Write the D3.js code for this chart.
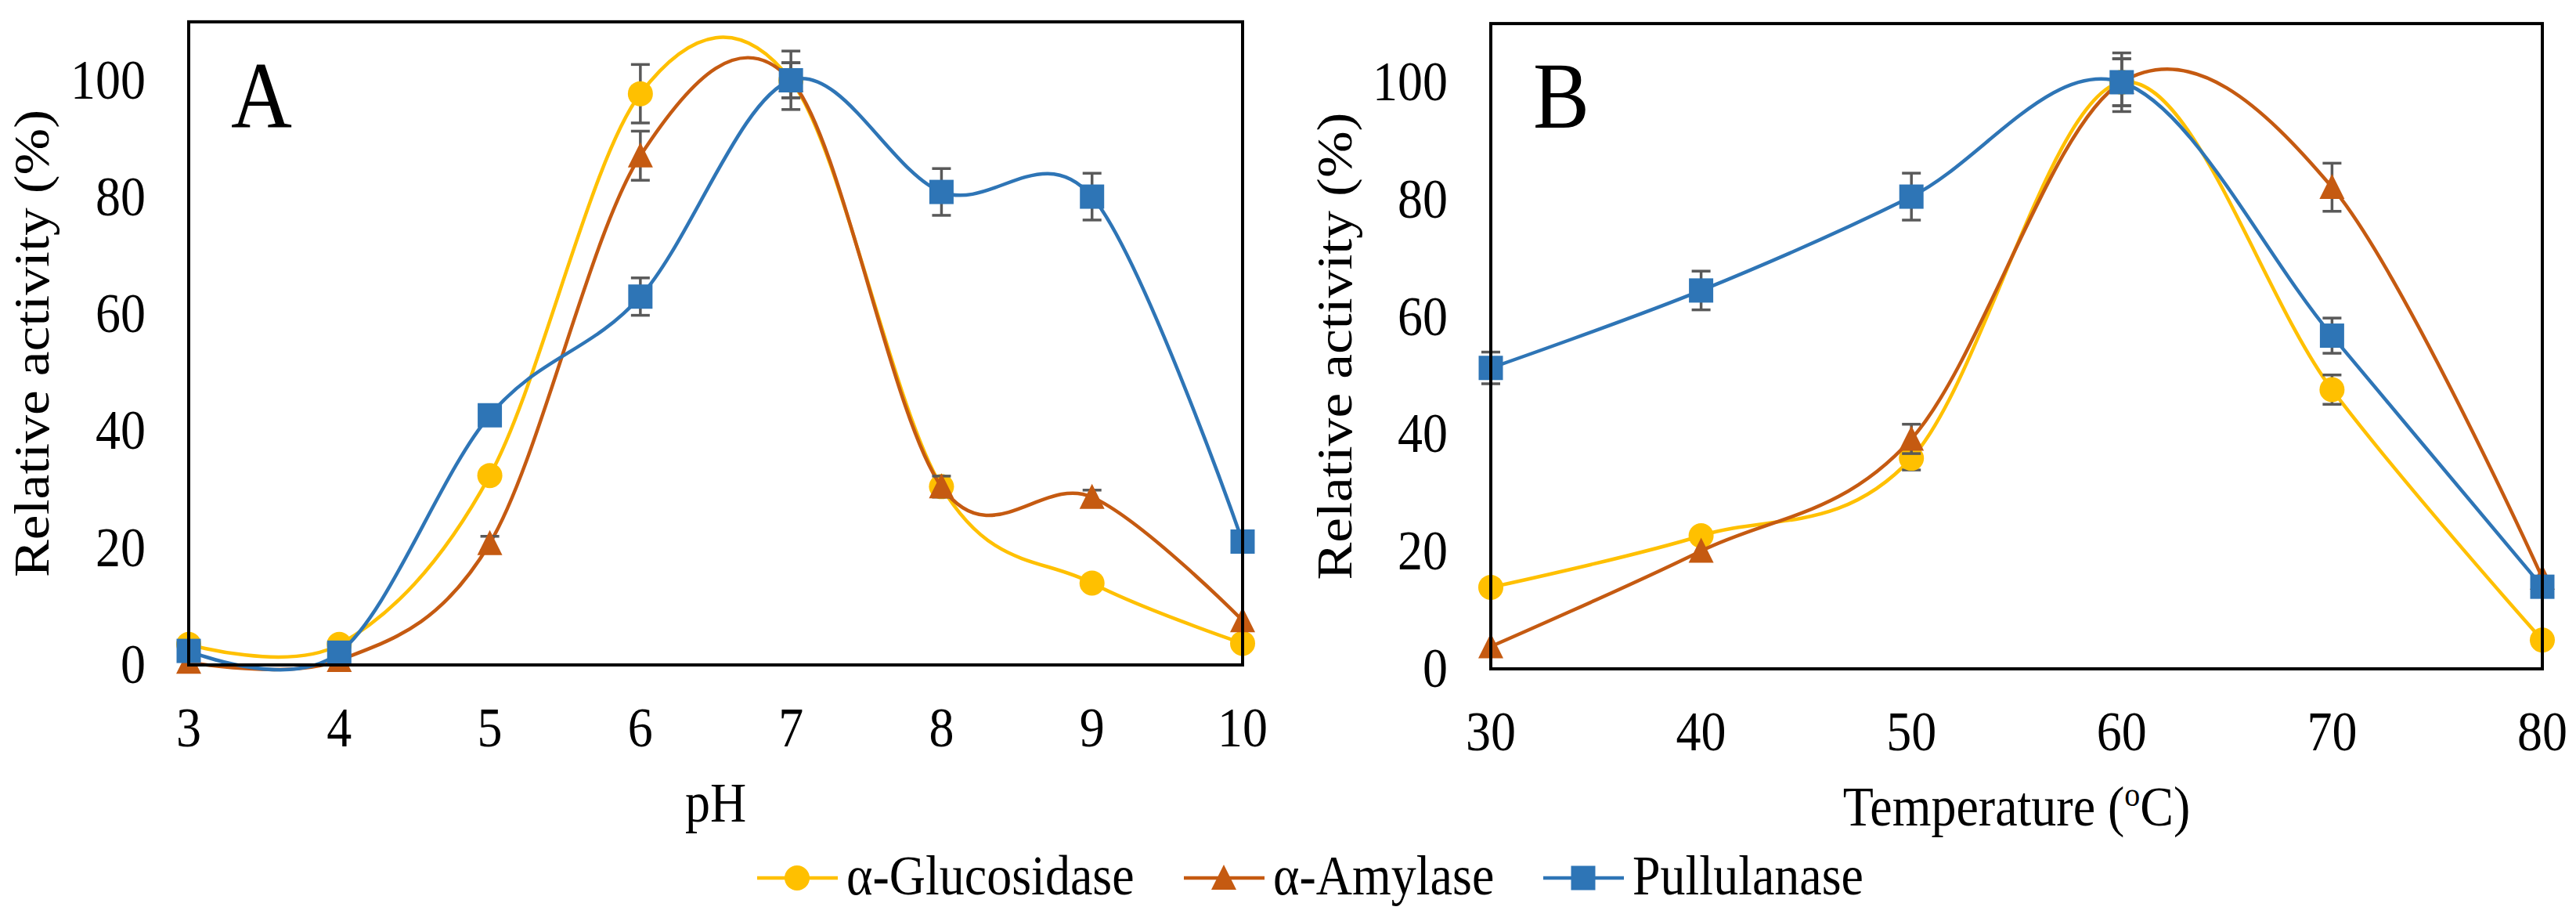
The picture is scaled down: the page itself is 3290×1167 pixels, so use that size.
<!DOCTYPE html>
<html><head><meta charset="utf-8">
<script src="https://cdn.jsdelivr.net/npm/d3@7"></script>
<style>html,body{margin:0;padding:0;background:#fff;}svg{display:block;}</style>
</head><body>
<svg id="chart" width="3290" height="1167"></svg>
<script>
// ---------- data ----------
const seriesNames = ["α-Glucosidase", "α-Amylase", "Pullulanase"];
const phValues = [3, 4, 5, 6, 7, 8, 9, 10];
const tempValues = [30, 40, 50, 60, 70, 80];
const yTicks = [0, 20, 40, 60, 80, 100];

const phGlucosidase = [3.5, 3.5, 32.4, 97.7, 100, 30.5, 14, 3.7];
const phAmylase     = [0.5, 0.8, 20.8, 87.1, 100, 30.5, 28.7, 7.6];
const phPullulanase = [2.4, 2.1, 42.7, 63, 100, 80.9, 80.1, 21.1];
const phGlucosidaseErr = [0.5, 0.5, 1, 5, 3, 1, 0.5, 0.5];
const phAmylaseErr     = [0.3, 0.3, 1.2, 4.2, 3, 1.8, 1.2, 0.5];
const phPullulanaseErr = [0.5, 0.5, 1, 3.2, 5, 4, 4, 0.5];

const tGlucosidase = [13.9, 22.7, 35.9, 100, 47.6, 4.9];
const tAmylase     = [3.8, 20.1, 39.2, 100, 82.1, 15.5];
const tPullulanase = [51.3, 64.5, 80.5, 100, 56.8, 14];
const tGlucosidaseErr = [0.5, 0.8, 2, 4, 2.5, 0.5];
const tAmylaseErr     = [0.5, 0.8, 2.5, 4, 4.1, 0.5];
const tPullulanaseErr = [2.7, 3.3, 4, 5, 3, 0.5];

// ---------- style ----------
const colors = ["#FFC000", "#C55A11", "#2E75B6"];
const errColor = "#595959";
const FONT = "'Liberation Serif','Times New Roman',serif";
const FS = 64, STRETCH = 1.12;

const svg = d3.select("#chart");

function txt(g, x, y, s, anchor, size, rot) {
  const t = g.append("g").attr("transform",
    rot ? `translate(${x},${y}) rotate(-90) scale(${STRETCH},1)` : `translate(${x},${y}) scale(1,${STRETCH})`);
  t.append("text").attr("x", 0).attr("y", 0).attr("text-anchor", anchor)
    .attr("font-family", FONT).attr("font-size", size).attr("fill", "#000").text(s);
  return t;
}

function marker(g, type, x, y, color) {
  if (type === 0) {
    g.append("path").attr("d", d3.symbol(d3.symbolCircle, Math.PI * 16 * 16)())
      .attr("transform", `translate(${x},${y})`).attr("fill", color);
  } else if (type === 1) {
    const p = d3.path();
    p.moveTo(0, -17); p.lineTo(16, 15); p.lineTo(-16, 15); p.closePath();
    g.append("path").attr("d", p.toString()).attr("transform", `translate(${x},${y})`).attr("fill", color);
  } else {
    g.append("path").attr("d", d3.symbol(d3.symbolSquare, 31 * 31)())
      .attr("transform", `translate(${x},${y})`).attr("fill", color);
  }
}

function panel(cfg) {
  const g = svg.append("g");
  const x = d3.scaleLinear().domain([cfg.xs[0], cfg.xs[cfg.xs.length - 1]]).range(cfg.xr);
  const y = d3.scaleLinear().domain([0, 110]).range(cfg.yr);

  // y tick labels
  yTicks.forEach(v => txt(g, cfg.xr[0] - 55, y(v) + 23, String(v), "end", FS));
  // x tick labels
  cfg.xs.forEach(v => txt(g, x(v), y(0) + 104, String(v), "middle", FS));
  // axis titles
  txt(g, cfg.ytX, (y(0) + y(110)) / 2, "Relative activity (%)", "middle", FS, true);
  const xt = txt(g, (cfg.xr[0] + cfg.xr[1]) / 2, y(0) + 200, "", "middle", FS);
  cfg.xTitle(xt.select("text"));
  // panel letter
  txt(g, cfg.xr[0] + 54, 163, cfg.letter, "start", 108);

  const line = d3.line().x(d => x(d[0])).y(d => y(d[1])).curve(d3.curveCardinal.tension(0));
  cfg.series.forEach((s, i) => {
    const pts = cfg.xs.map((v, j) => [v, s.v[j], s.e[j]]);
    g.append("path").attr("d", line(pts)).attr("fill", "none")
      .attr("stroke", colors[i]).attr("stroke-width", 4.5);
    pts.forEach(p => {
      if (p[2] >= 1) {
        const cx = x(p[0]), y1 = y(p[1] + p[2]), y2 = y(p[1] - p[2]);
        g.append("line").attr("x1", cx).attr("x2", cx).attr("y1", y1).attr("y2", y2)
          .attr("stroke", errColor).attr("stroke-width", 3.5);
        [y1, y2].forEach(yy => g.append("line").attr("x1", cx - 12).attr("x2", cx + 12)
          .attr("y1", yy).attr("y2", yy).attr("stroke", errColor).attr("stroke-width", 3.5));
      }
    });
    pts.forEach(p => marker(g, i, x(p[0]), y(p[1]), colors[i]));
  });

  // frame
  g.append("rect").attr("x", cfg.xr[0]).attr("y", y(110)).attr("width", cfg.xr[1] - cfg.xr[0])
    .attr("height", y(0) - y(110)).attr("fill", "none").attr("stroke", "#000").attr("stroke-width", 4);
}

panel({
  xs: phValues, xr: [241, 1587], yr: [849, 849 - 110 * 7.465], ytX: 62, letter: "A",
  xTitle: t => t.text("pH"),
  series: [
    { v: phGlucosidase, e: phGlucosidaseErr },
    { v: phAmylase, e: phAmylaseErr },
    { v: phPullulanase, e: phPullulanaseErr }
  ]
});
panel({
  xs: tempValues, xr: [1904, 3247], yr: [854, 854 - 110 * 7.49], ytX: 1726, letter: "B",
  xTitle: t => { t.append("tspan").text("Temperature ("); t.append("tspan").attr("dy", -22).attr("font-size", 40).text("o");
                 t.append("tspan").attr("dy", 22).text("C)"); },
  series: [
    { v: tGlucosidase, e: tGlucosidaseErr },
    { v: tAmylase, e: tAmylaseErr },
    { v: tPullulanase, e: tPullulanaseErr }
  ]
});

// legend
const legX = [967, 1512, 1971];
const leg = svg.append("g");
seriesNames.forEach((n, i) => {
  const x0 = legX[i], yy = 1121;
  leg.append("line").attr("x1", x0).attr("x2", x0 + 103).attr("y1", yy).attr("y2", yy)
    .attr("stroke", colors[i]).attr("stroke-width", 4.5);
  marker(leg, i, x0 + 51, yy, colors[i]);
  txt(leg, x0 + 114, 1142, n, "start", FS);
});
</script>
</body></html>
